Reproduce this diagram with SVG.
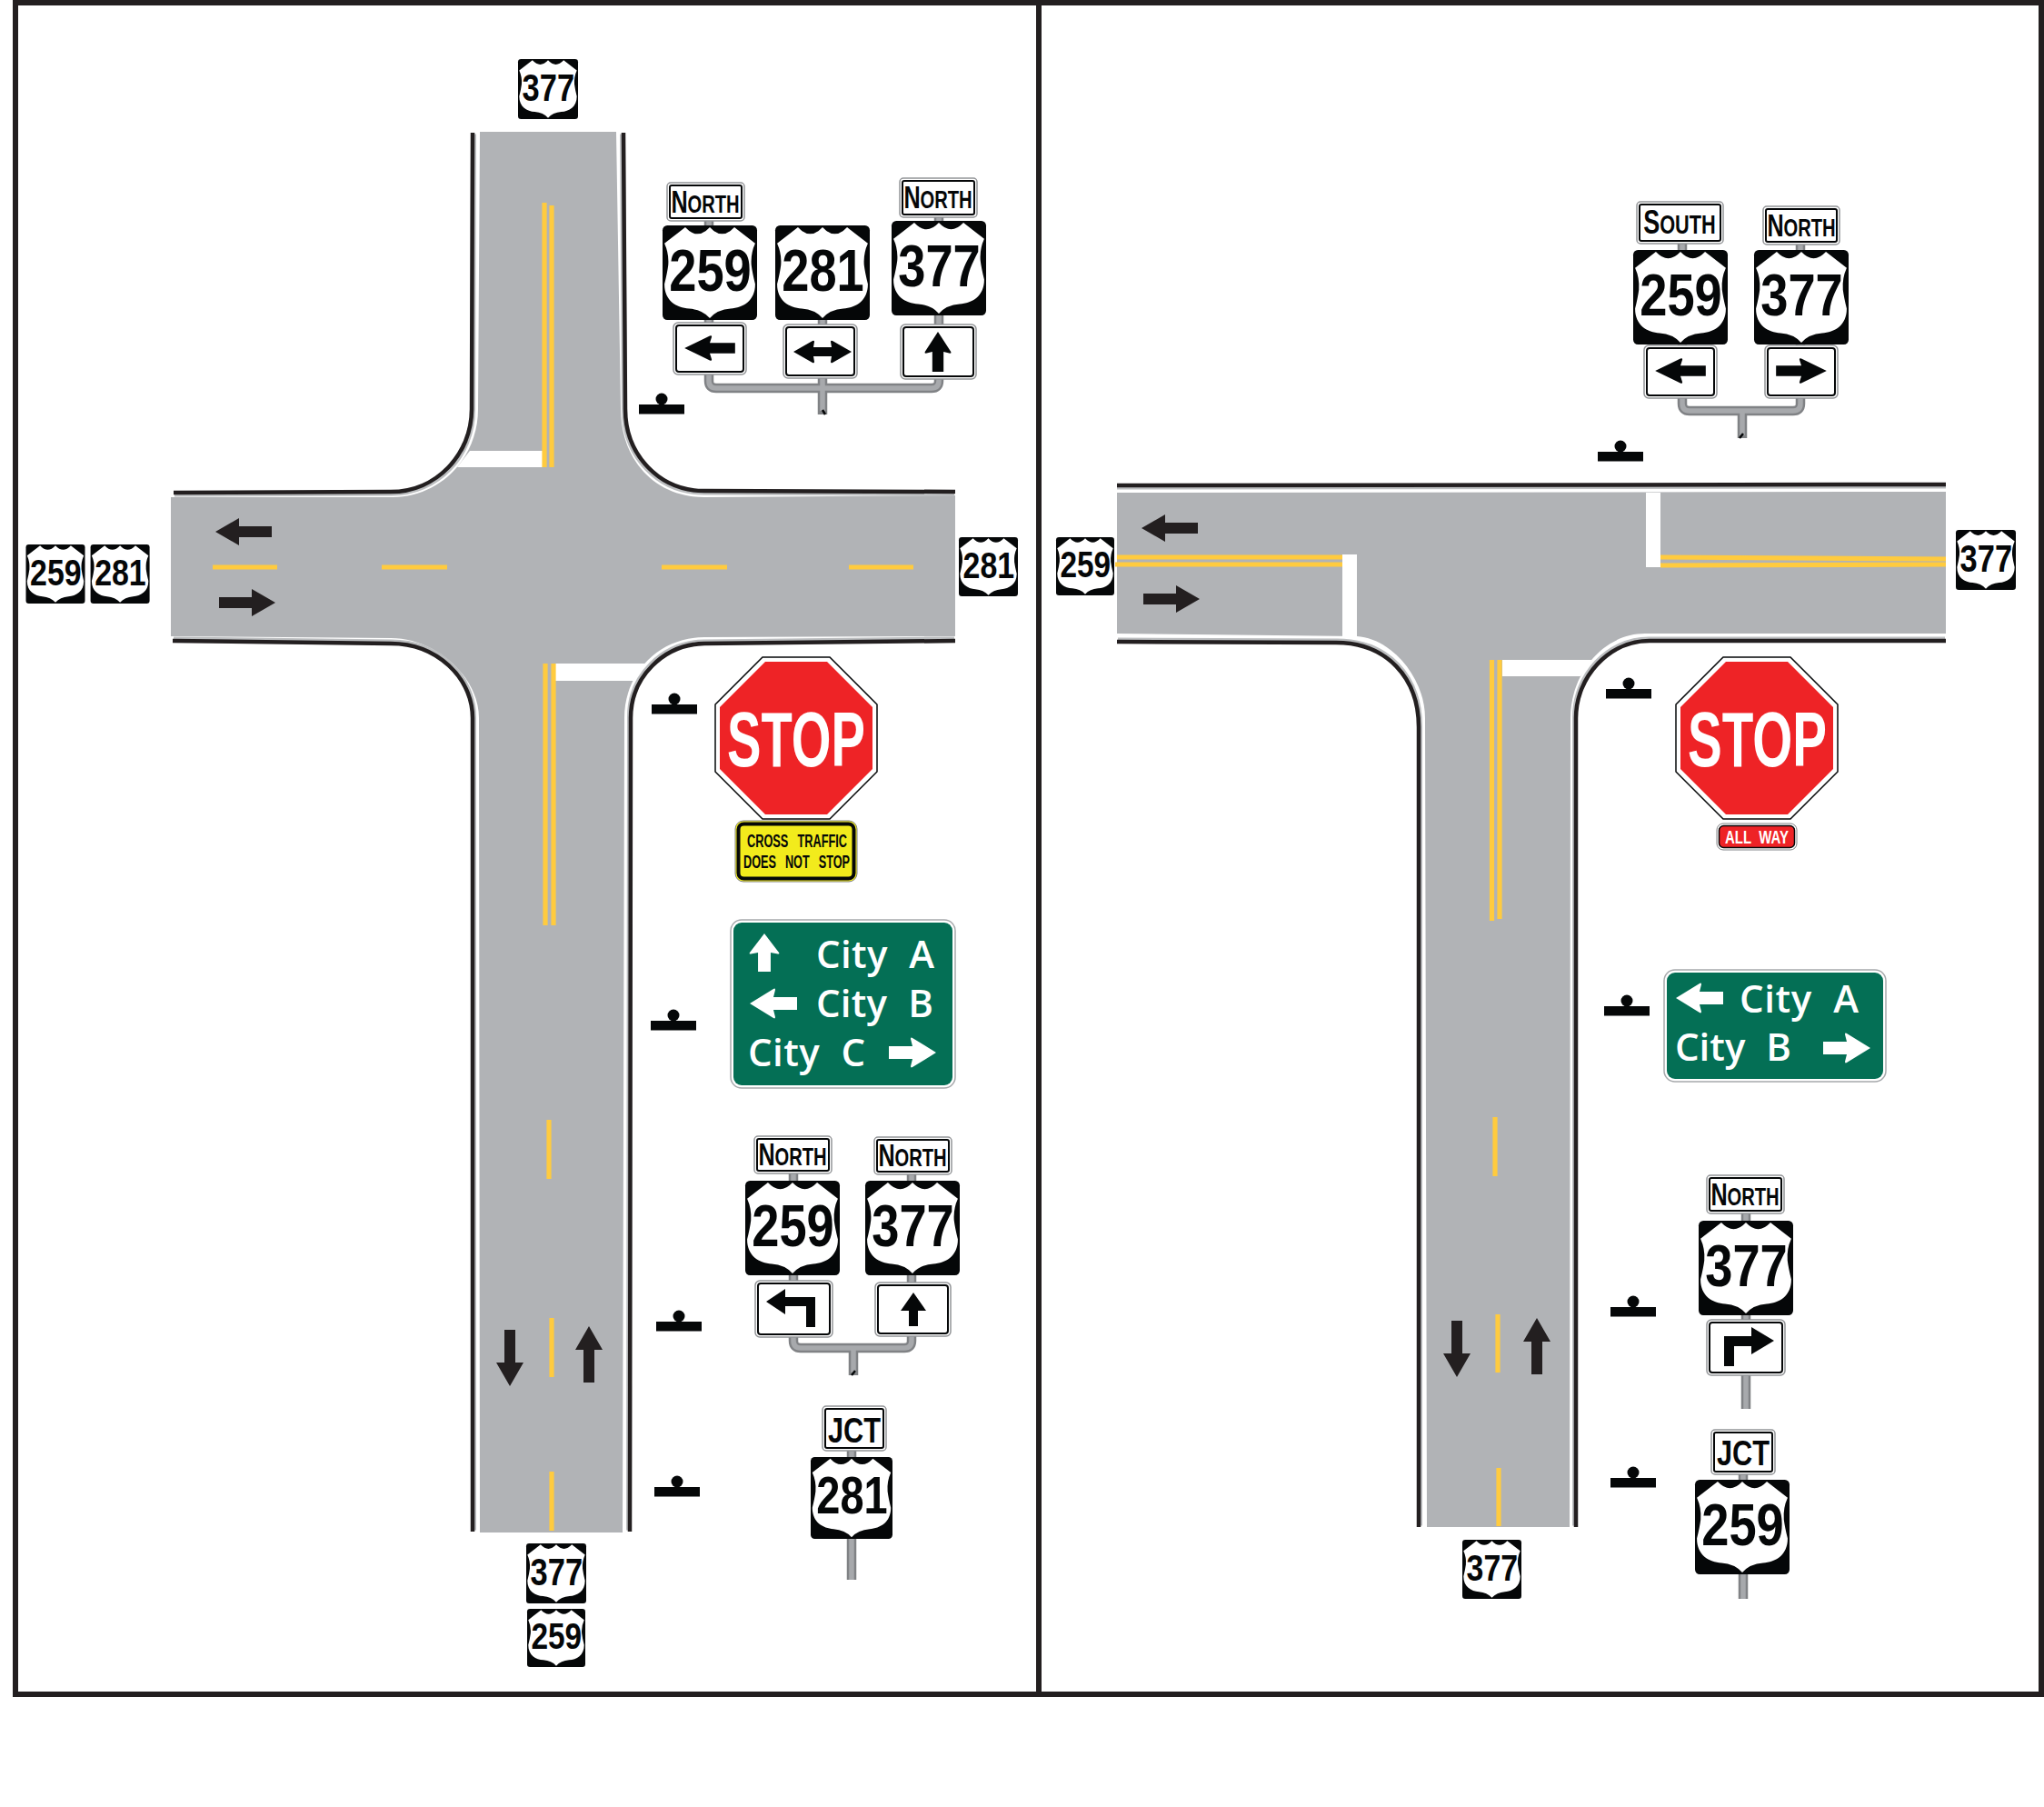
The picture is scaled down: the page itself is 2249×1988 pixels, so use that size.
<svg xmlns="http://www.w3.org/2000/svg" xmlns:xlink="http://www.w3.org/1999/xlink" width="2249" height="1988" viewBox="0 0 2249 1988">
<style>
.frame{fill:none;stroke:#231F20;stroke-width:6}
.road{fill:#B1B3B6}
.bar{fill:#fff}
.curb{fill:none;stroke:#231F20;stroke-width:4.5}
.halo{fill:none;stroke:#BCBEC0;stroke-width:6}
.y{fill:none;stroke:#FFCB3F;stroke-width:5.2}
.mark{fill:#231F20}
.blk{fill:#050708}
.wht{fill:#fff}
.post{fill:none;stroke:#808285;stroke-width:10.5}
.post2{fill:none;stroke:#A7A9AC;stroke-width:5.5}
.po{fill:#fff;stroke:#939598;stroke-width:1.5}
.pi{fill:#fff;stroke:#050708;stroke-width:2}
.num{font-family:"Liberation Sans",Arial,sans-serif;font-weight:700;font-size:63px;fill:#050708}
.cap{font-family:"Liberation Sans",Arial,sans-serif;font-weight:700;fill:#050708;text-anchor:middle}
.stop{font-family:"Liberation Sans",Arial,sans-serif;font-weight:700;font-size:86px;fill:#fff}
.small{font-family:"Liberation Sans",Arial,sans-serif;font-weight:700;font-size:19.5px;fill:#050708;word-spacing:10px}
.city{font-family:"Open Sans",Arial,sans-serif;font-weight:600;font-size:42px;fill:#fff;word-spacing:12px}
.green{fill:#046F55}
.gouter{fill:#fff;stroke:#A7A9AC;stroke-width:1.5}
</style>
<defs>
<g id="sh"><rect width="100" height="100" rx="5" fill="#050708"/><path fill="#fff" d="M24,2 Q37,16 50,2 Q63,16 76,2 L98,19 Q93,30 94,42 Q95,50 98,62 C98,80 85,87 72,88 Q58,89 50,98 Q42,89 28,88 C15,87 2,80 2,62 Q5,50 6,42 Q7,30 2,19 Z"/></g>
<path id="ra" d="M-31,-6 H5 V-15 L31,0 L5,15 V6 H-31Z"/>
<path id="a" d="M-26,-6.5 H0 L-2,-14 Q-2,-16 0,-15 L26,0 L0,15 Q-2,16 -2,14 L0,6.5 H-26 Z"/>
<path id="da" d="M-10,-5 H10 L9,-11 Q9,-13 11,-12 L32,0 L11,12 Q9,13 9,11 L10,5 H-10 L-9,11 Q-9,13 -11,12 L-32,0 L-11,-12 Q-9,-13 -9,-11 Z"/>
<g id="mk"><rect x="-25" y="0" width="50" height="10.5" fill="#050708"/><circle cx="0" cy="-6" r="6.5" fill="#050708"/></g>
<g id="oct"><polygon points="52,0 126,0 178,52 178,126 126,178 52,178 0,126 0,52" fill="#fff" stroke="#050708" stroke-width="1.5"/><polygon points="55,5 123,5 173,55 173,123 123,173 55,173 5,123 5,55" fill="#EE2326"/></g>
</defs>
<rect width="2249" height="1988" fill="#fff"/>
<g id="frame"><rect class="frame" x="17" y="3" width="2229" height="1861"/><line class="frame" x1="1143" y1="3" x2="1143" y2="1864"/></g>

<g id="road-left">
<path class="road" d="M188,547 L432,547 C483,547 526,505 526,450 L528,145 L678,145 L683,450 C683,505 720,547 775,547 L1051,545 L1051,700 L775,701 C725,701 687,740 687,790 L685,1686 L528,1686 L527,790 C527,745 480,702 430,702 L188,700 Z"/>
<polygon class="bar" points="503,514 597,514 597,496 517,496"/>
<polygon class="bar" points="611,730 712,730 697,749 611,749"/>
<path class="halo" transform="translate(1,1.5)" d="M191,542 L430,541 C480,541 519,500 519,450 L520,146"/>
<path class="halo" transform="translate(-1,1.5)" d="M686,146 L688,450 C688,500 725,540 775,540 L1051,541"/>
<path class="halo" transform="translate(1,-1.5)" d="M190,705 L430,708 C480,708 520,745 520,790 L520,1685"/>
<path class="halo" transform="translate(-1,-1.5)" d="M693,1685 L694,790 C694,745 730,709 775,708 L1051,705"/>
<path class="curb" d="M191,542 L430,541 C480,541 519,500 519,450 L520,146"/>
<path class="curb" d="M686,146 L688,450 C688,500 725,540 775,540 L1051,541"/>
<path class="curb" d="M190,705 L430,708 C480,708 520,745 520,790 L520,1685"/>
<path class="curb" d="M693,1685 L694,790 C694,745 730,709 775,708 L1051,705"/>
<path class="y" d="M599,223 V514 M607,226 V514 M600,730 V1018 M609,730 V1018 M234,624 H305 M420,624 H492 M728,624 H800 M934,624 H1005 M604,1232 V1297 M607,1450 V1515 M607,1619 V1684"/>
<g class="mark">
<use href="#ra" transform="translate(268,585) scale(-1,1)"/>
<use href="#ra" transform="translate(272,663)"/>
<use href="#ra" transform="translate(561,1494) rotate(90)"/>
<use href="#ra" transform="translate(648,1490) rotate(-90)"/>
</g>
</g>

<g id="road-right">
<path class="road" d="M1229,542 L2141,541 L2141,697 L1810,697 C1765,697 1728,740 1728,790 L1727,1680 L1570,1680 L1568,790 C1568,745 1530,702 1493,700 L1229,697 Z"/>
<rect class="bar" x="1477" y="610" width="16" height="90"/>
<rect class="bar" x="1811" y="542" width="16" height="82"/>
<polygon class="bar" points="1653,726 1753,726 1739,744 1653,744"/>
<path class="halo" transform="translate(0,1.5)" d="M1229,534 L2141,533"/>
<path class="halo" transform="translate(1,-1.5)" d="M1229,706 L1470,707 C1525,707 1561,745 1561,800 L1561,1680"/>
<path class="halo" transform="translate(-1,-1.5)" d="M1734,1680 L1734,790 C1734,745 1770,705 1815,705 L2141,705"/>
<path class="curb" d="M1229,534 L2141,533"/>
<path class="curb" d="M1229,706 L1470,707 C1525,707 1561,745 1561,800 L1561,1680"/>
<path class="curb" d="M1734,1680 L1734,790 C1734,745 1770,705 1815,705 L2141,705"/>
<path class="y" d="M1229,613 H1477 M1227,621 H1477 M1827,613 L2141,615 M1827,622 L2141,621 M1641.5,726 V1013 M1650,726 V1011 M1645,1229 V1294 M1648,1446 V1510 M1649,1615 V1679"/>
<g class="mark">
<use href="#ra" transform="translate(1287,581) scale(-1,1)"/>
<use href="#ra" transform="translate(1289,659)"/>
<use href="#ra" transform="translate(1603,1484) rotate(90)"/>
<use href="#ra" transform="translate(1691,1481) rotate(-90)"/>
</g>
</g>

<g id="connectors">
<path class="post" d="M780,240 V419 Q780,427 788,427 H1025 Q1033,427 1033,419 V235 M905,345 V456"/>
<path class="post2" d="M780,240 V419 Q780,427 788,427 H1025 Q1033,427 1033,419 V235 M905,345 V452"/>
<path class="post" d="M873,1290 V1475 Q873,1483 881,1483 H995 Q1003,1483 1003,1475 V1290 M939,1483 V1513"/>
<path class="post2" d="M873,1290 V1475 Q873,1483 881,1483 H995 Q1003,1483 1003,1475 V1290 M939,1483 V1510"/>
<path class="post" d="M937,1595 V1738"/><path class="post2" d="M937,1595 V1738"/>
<path class="post" d="M1851,268 V444 Q1851,452 1859,452 H1973 Q1981,452 1981,444 V269 M1917,452 V482"/>
<path class="post2" d="M1851,268 V444 Q1851,452 1859,452 H1973 Q1981,452 1981,444 V269 M1917,452 V479"/>
<path class="post" d="M1921,1335 V1550"/><path class="post2" d="M1921,1335 V1550"/>
<path class="post" d="M1918,1622 V1759"/><path class="post2" d="M1918,1622 V1759"/>
<path d="M905,451 L908,456 M941,1508 L937,1513 M1918,477 L1914,482" stroke="#050708" stroke-width="2.5" fill="none"/>
</g>

<g id="markers">
<use href="#mk" x="728" y="445"/><use href="#mk" x="742" y="775"/><use href="#mk" x="741" y="1123"/><use href="#mk" x="747" y="1454"/><use href="#mk" x="745" y="1636"/>
<use href="#mk" x="1783" y="497"/><use href="#mk" x="1792" y="758"/><use href="#mk" x="1790" y="1107"/><use href="#mk" x="1797" y="1438"/><use href="#mk" x="1797" y="1626"/>
</g>

<g id="route-labels">
<g id="rl-377-n" transform="translate(570,65) scale(.66)"><use href="#sh"/><text class="num" x="7" y="69" textLength="87" lengthAdjust="spacingAndGlyphs">377</text></g>
<g id="rl-259-w" transform="translate(28.5,599) scale(.65)"><use href="#sh"/><text class="num" x="7" y="69" textLength="87" lengthAdjust="spacingAndGlyphs">259</text></g>
<g id="rl-281-w" transform="translate(99.6,599) scale(.65)"><use href="#sh"/><text class="num" x="7" y="69" textLength="87" lengthAdjust="spacingAndGlyphs">281</text></g>
<g id="rl-281-e" transform="translate(1055,591) scale(.65)"><use href="#sh"/><text class="num" x="7" y="69" textLength="87" lengthAdjust="spacingAndGlyphs">281</text></g>
<g id="rl-377-s" transform="translate(579,1698) scale(.66)"><use href="#sh"/><text class="num" x="7" y="69" textLength="87" lengthAdjust="spacingAndGlyphs">377</text></g>
<g id="rl-259-s" transform="translate(580,1770) scale(.64)"><use href="#sh"/><text class="num" x="7" y="69" textLength="87" lengthAdjust="spacingAndGlyphs">259</text></g>
<g id="rr-259-w" transform="translate(1162,591) scale(.64)"><use href="#sh"/><text class="num" x="7" y="69" textLength="87" lengthAdjust="spacingAndGlyphs">259</text></g>
<g id="rr-377-e" transform="translate(2152,583) scale(.66)"><use href="#sh"/><text class="num" x="7" y="69" textLength="87" lengthAdjust="spacingAndGlyphs">377</text></g>
<g id="rr-377-s" transform="translate(1609,1694) scale(.65)"><use href="#sh"/><text class="num" x="7" y="69" textLength="87" lengthAdjust="spacingAndGlyphs">377</text></g>
</g>

<g id="assembly-left-1">
<rect class="po" x="734" y="201" width="85" height="42" rx="4"/><rect class="pi" x="737" y="204" width="79" height="36" rx="2" stroke-width="1.5"/>
<text class="cap" transform="translate(776,234) scale(.72,1)" font-size="28"><tspan font-size="35">N</tspan>ORTH</text>
<rect class="po" x="990" y="196" width="85" height="43" rx="4"/><rect class="pi" x="993" y="199" width="79" height="37" rx="2" stroke-width="1.5"/>
<text class="cap" transform="translate(1032,229) scale(.72,1)" font-size="28"><tspan font-size="35">N</tspan>ORTH</text>
<g transform="translate(729,248) scale(1.04)"><use href="#sh"/><text class="num" x="7" y="69" textLength="87" lengthAdjust="spacingAndGlyphs">259</text></g>
<g transform="translate(853,248) scale(1.04)"><use href="#sh"/><text class="num" x="7" y="69" textLength="87" lengthAdjust="spacingAndGlyphs">281</text></g>
<g transform="translate(981,243) scale(1.04)"><use href="#sh"/><text class="num" x="7" y="69" textLength="87" lengthAdjust="spacingAndGlyphs">377</text></g>
<rect class="po" x="741" y="355" width="80" height="57" rx="5"/><rect class="pi" x="744" y="358" width="74" height="51" rx="3"/>
<use class="blk" href="#a" transform="translate(781,383) scale(-1.07,.9)"/>
<rect class="po" x="862" y="357" width="81" height="59" rx="5"/><rect class="pi" x="865" y="360" width="75" height="53" rx="3"/>
<use class="blk" href="#da" transform="translate(905,387)"/>
<rect class="po" x="991" y="357" width="83" height="60" rx="5"/><rect class="pi" x="994" y="360" width="77" height="54" rx="3"/>
<use class="blk" href="#a" transform="translate(1032,387) rotate(-90) scale(.85,.95)"/>
</g>

<g id="stop-left">
<use href="#oct" x="787" y="723"/>
<text class="stop" x="800" y="843" textLength="152" lengthAdjust="spacingAndGlyphs">STOP</text>
<rect x="809" y="903" width="134" height="67" rx="9" fill="#F2EB1C" stroke="#808285"/>
<rect x="812.5" y="906.5" width="127" height="60" rx="6" fill="#F2EB1C" stroke="#050708" stroke-width="4"/>
<text class="small" x="822" y="932" textLength="110" lengthAdjust="spacingAndGlyphs">CROSS TRAFFIC</text>
<text class="small" x="818" y="955" textLength="117" lengthAdjust="spacingAndGlyphs">DOES NOT STOP</text>
</g>

<g id="guide-left">
<rect class="gouter" x="804" y="1012" width="247" height="185" rx="12"/>
<rect class="green" x="807" y="1015" width="241" height="179" rx="9"/>
<use class="wht" href="#a" transform="translate(841,1048) rotate(-90) scale(.81,1.07)"/>
<use class="wht" href="#a" transform="translate(851,1104) scale(-1,1.07)"/>
<use class="wht" href="#a" transform="translate(1004,1158) scale(1,1.07)"/>
<text class="city" x="898" y="1065" textLength="130" lengthAdjust="spacing">City A</text>
<text class="city" x="898" y="1119" textLength="129" lengthAdjust="spacing">City B</text>
<text class="city" x="823" y="1173" textLength="129" lengthAdjust="spacing">City C</text>
</g>

<g id="assembly-left-2">
<rect class="po" x="830" y="1250" width="85" height="41" rx="4"/><rect class="pi" x="833" y="1253" width="79" height="35" rx="2" stroke-width="1.5"/>
<text class="cap" transform="translate(872,1282) scale(.72,1)" font-size="28"><tspan font-size="35">N</tspan>ORTH</text>
<rect class="po" x="962" y="1251" width="85" height="41" rx="4"/><rect class="pi" x="965" y="1254" width="79" height="35" rx="2" stroke-width="1.5"/>
<text class="cap" transform="translate(1004,1283) scale(.72,1)" font-size="28"><tspan font-size="35">N</tspan>ORTH</text>
<g transform="translate(820,1299) scale(1.04)"><use href="#sh"/><text class="num" x="7" y="69" textLength="87" lengthAdjust="spacingAndGlyphs">259</text></g>
<g transform="translate(952,1299) scale(1.04)"><use href="#sh"/><text class="num" x="7" y="69" textLength="87" lengthAdjust="spacingAndGlyphs">377</text></g>
<rect class="po" x="831" y="1409" width="85" height="62" rx="5"/><rect class="pi" x="834" y="1412" width="79" height="56" rx="3"/>
<path class="blk" d="M843,1432 L864,1418 V1427 H897 V1460 H887 V1437 H864 V1446 Z"/>
<rect class="po" x="963" y="1411" width="83" height="59" rx="5"/><rect class="pi" x="966" y="1414" width="77" height="53" rx="3"/>
<path class="blk" d="M1005,1422 L1019,1442 H1010 V1459 H1000 V1442 H991 Z"/>
<rect class="po" x="905" y="1547" width="70" height="49" rx="4"/><rect class="pi" x="908" y="1550" width="64" height="43" rx="2" stroke-width="1.5"/>
<text class="cap" x="940" y="1587" font-size="39" font-weight="400" textLength="58" lengthAdjust="spacingAndGlyphs">JCT</text>
<g transform="translate(892,1603) scale(.9)"><use href="#sh"/><text class="num" x="7" y="69" textLength="87" lengthAdjust="spacingAndGlyphs">281</text></g>
</g>

<g id="assembly-right-1">
<rect class="po" x="1801" y="222" width="95" height="46" rx="4"/><rect class="pi" x="1804" y="225" width="89" height="40" rx="2" stroke-width="1.5"/>
<text class="cap" transform="translate(1848,257) scale(.75,1)" font-size="29"><tspan font-size="36">S</tspan>OUTH</text>
<rect class="po" x="1940" y="227" width="84" height="42" rx="4"/><rect class="pi" x="1943" y="230" width="78" height="36" rx="2" stroke-width="1.5"/>
<text class="cap" transform="translate(1982,260) scale(.72,1)" font-size="28"><tspan font-size="35">N</tspan>ORTH</text>
<g transform="translate(1797,275) scale(1.04)"><use href="#sh"/><text class="num" x="7" y="69" textLength="87" lengthAdjust="spacingAndGlyphs">259</text></g>
<g transform="translate(1930,275) scale(1.04)"><use href="#sh"/><text class="num" x="7" y="69" textLength="87" lengthAdjust="spacingAndGlyphs">377</text></g>
<rect class="po" x="1809" y="380" width="80" height="58" rx="5"/><rect class="pi" x="1812" y="383" width="74" height="52" rx="3"/>
<use class="blk" href="#a" transform="translate(1849,408) scale(-1.07,.9)"/>
<rect class="po" x="1942" y="380" width="80" height="58" rx="5"/><rect class="pi" x="1945" y="383" width="74" height="52" rx="3"/>
<use class="blk" href="#a" transform="translate(1982,408) scale(1.07,.9)"/>
</g>

<g id="stop-right">
<use href="#oct" x="1844" y="723"/>
<text class="stop" x="1857" y="843" textLength="153" lengthAdjust="spacingAndGlyphs">STOP</text>
<rect x="1889" y="906" width="88" height="29" rx="7" fill="#fff" stroke="#808285"/>
<rect x="1891.5" y="908.5" width="83" height="24" rx="5" fill="#EE2326" stroke="#050708" stroke-width="1.5"/>
<text x="1898" y="928" font-family="Liberation Sans, Arial, sans-serif" font-weight="700" font-size="21" fill="#fff" word-spacing="6" textLength="70" lengthAdjust="spacingAndGlyphs">ALL WAY</text>
</g>

<g id="guide-right">
<rect class="gouter" x="1831" y="1067" width="244" height="123" rx="12"/>
<rect class="green" x="1834" y="1070" width="238" height="117" rx="9"/>
<use class="wht" href="#a" transform="translate(1870,1098) scale(-1,1.07)"/>
<use class="wht" href="#a" transform="translate(2032,1153) scale(1,1.07)"/>
<text class="city" x="1914" y="1114" textLength="131" lengthAdjust="spacing">City A</text>
<text class="city" x="1843" y="1167" textLength="128" lengthAdjust="spacing">City B</text>
</g>

<g id="assembly-right-2">
<rect class="po" x="1878" y="1293" width="85" height="42" rx="4"/><rect class="pi" x="1881" y="1296" width="79" height="36" rx="2" stroke-width="1.5"/>
<text class="cap" transform="translate(1920,1326) scale(.72,1)" font-size="28"><tspan font-size="35">N</tspan>ORTH</text>
<g transform="translate(1869,1343) scale(1.04)"><use href="#sh"/><text class="num" x="7" y="69" textLength="87" lengthAdjust="spacingAndGlyphs">377</text></g>
<rect class="po" x="1878" y="1452" width="86" height="61" rx="5"/><rect class="pi" x="1881" y="1455" width="80" height="55" rx="3"/>
<path class="blk" d="M1952,1475 L1927,1460 V1470 H1897 V1503 H1908 V1481 H1927 V1490 Z"/>
<rect class="po" x="1883" y="1573" width="70" height="49" rx="4"/><rect class="pi" x="1886" y="1576" width="64" height="43" rx="2" stroke-width="1.5"/>
<text class="cap" x="1918" y="1612" font-size="39" font-weight="400" textLength="58" lengthAdjust="spacingAndGlyphs">JCT</text>
<g transform="translate(1865,1628) scale(1.04)"><use href="#sh"/><text class="num" x="7" y="69" textLength="87" lengthAdjust="spacingAndGlyphs">259</text></g>
</g>
</svg>
